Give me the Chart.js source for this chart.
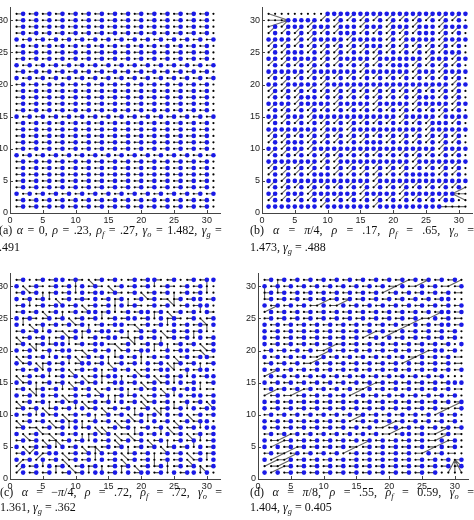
<!DOCTYPE html>
<html lang="en">
<head>
<meta charset="UTF-8">
<title>Matchings on a 31x31 grid</title>
<script src="https://cdn.jsdelivr.net/npm/chart.js"></script>
<style>
    body {
        margin: 0;
        background: #fff;
        width: 474px;
        height: 520px;
        position: relative;
        overflow: hidden;
    }
    canvas { position: absolute; }
    .cap {
        position: absolute;
        font-family: 'Liberation Serif', 'Times New Roman', serif;
        font-size: 12px;
        line-height: 14px;
        color: #111;
    }
    .cap .l1 {
        display: flex;
        justify-content: space-between;
        white-space: nowrap;
    }
    .cap .l2 { white-space: nowrap; }
    .cap sub { font-size: 70%; vertical-align: -0.3em; line-height: 0; }
</style>
</head>
<body>
<canvas id="pa" width="228" height="226" style="left:-4px;top:0px"></canvas>
<canvas id="pb" width="228" height="226" style="left:248px;top:0px"></canvas>
<canvas id="pc" width="228" height="226" style="left:-4px;top:266px"></canvas>
<canvas id="pd" width="228" height="226" style="left:244px;top:266px"></canvas>

<div class="cap" style="left:-1px;top:223px;width:223px">
    <div class="l1"><span>(a)</span><i>α</i><span>=</span><span>0,</span><i>ρ</i><span>=</span><span>.23,</span><i>ρ<sub>f</sub></i><span>=</span><span>.27,</span><i>γ<sub>o</sub></i><span>=</span><span>1.482,</span><i>γ<sub>g</sub></i><span>=</span></div>
    <div class="l2" style="margin-top:3px">.491</div>
</div>
<div class="cap" style="left:250px;top:223px;width:224px">
    <div class="l1"><span>(b)</span><i>α</i><span>=</span><span><i>π</i>/4,</span><i>ρ</i><span>=</span><span>.17,</span><i>ρ<sub>f</sub></i><span>=</span><span>.65,</span><i>γ<sub>o</sub></i><span>=</span></div>
    <div class="l2" style="margin-top:3px">1.473, <i>γ<sub>g</sub></i> = .488</div>
</div>
<div class="cap" style="left:0px;top:485px;width:222px">
    <div class="l1"><span>(c)</span><i>α</i><span>=</span><span>−<i>π</i>/4,</span><i>ρ</i><span>=</span><span>.72,</span><i>ρ<sub>f</sub></i><span>=</span><span>.72,</span><i>γ<sub>o</sub></i><span>=</span></div>
    <div class="l2" style="margin-top:1px">1.361, <i>γ<sub>g</sub></i> = .362</div>
</div>
<div class="cap" style="left:250px;top:485px;width:224px">
    <div class="l1"><span>(d)</span><i>α</i><span>=</span><span><i>π</i>/8,</span><i>ρ</i><span>=</span><span>.55,</span><i>ρ<sub>f</sub></i><span>=</span><span>0.59,</span><i>γ<sub>o</sub></i><span>=</span></div>
    <div class="l2" style="margin-top:1px">1.404, <i>γ<sub>g</sub></i> = 0.405</div>
</div>

<script>
// grid rows, top row (y = 31) first, one char per column x = 1..31 (spaces are ignored)
// o = blue point, other chars = black point, its letter says where its blue partner is
// l right, h left, k up, j down, u up-right, y up-left, n down-right, b down-left, U two right one up
const TICKS = [0, 5, 10, 15, 20, 25, 30];
const GRID = 31;

const rowsA = [
    "lololololololololololololololo.",
    "lololololololololololololololo.",
    "lololololololololololololololo.",
    "lololololololololololololololo.",
    "olololololololololololololololo",
    "lololololololololololololololo.",
    "lololololololololololololololo.",
    "lololololololololololololololo.",
    "olololololololololololololololo",
    "lololololololololololololololo.",
    "olololololololololololololololo",
    "lololololololololololololololo.",
    "lololololololololololololololo.",
    "lololololololololololololololo.",
    "lololololololololololololololo.",
    "lololololololololololololololo.",
    "olololololololololololololololo",
    "lololololololololololololololo.",
    "lololololololololololololololo.",
    "lololololololololololololololo.",
    "lololololololololololololololo.",
    "lololololololololololololololo.",
    "olololololololololololololololo",
    "lololololololololololololololo.",
    "lololololololololololololololo.",
    "lololololololololololololololo.",
    "lololololololololololololololo.",
    "lololololololololololololololo.",
    "olololololololololololololololo",
    "lololololololololololololololo.",
    "lololololololololololololololo."
];
const extraA = [];

const rowsB = [
    "..... ....o ooooo ooooo ooooo ooooo o",
    "...oo ooouo uouou ououo uouou ououo .",
    ".ouoo ouooo uooou ooouo oouoo ouooo o",
    "uouou ououo uooou ououo uouoo ououo .",
    "oooou ouooo oouoo ooouo uoooo ouooo o",
    "uouou ououo uouou ooouo uouou ououo .",
    "uouoo ououo uouou ououo uouou ouooo .",
    "oouoo ooouo uoooo ouooo oooou ooouo o",
    "uouou ououo uouou ououo oouou ououo .",
    "ooooo ouooo oooou ooooo oouoo ouooo o",
    "uouou ououo uouou ououo uouou ououo .",
    "oouoo ooouo ooooo ooooo ooooo ooouo o",
    "uouou ououo uouou ououo uouou ououo .",
    "uouou ooouo uouou ououo uouoo ououo .",
    "oooou ooooo uoooo ouooo oouoo ooouo o",
    "uouou ououo uouou ououo uouou ououo .",
    "oouoo ouooo ooooo ooooo uoooo ouooo o",
    "uouou ououo uouou ououo uouou ooouo .",
    "ooooo ooouo oouoo ooooo oooou ooooo o",
    "uouou ououo uouou ououo uouou ououo .",
    "uouoo ououo uouou ooouo uouou ououo .",
    "oouoo ouooo ooooo ooooo ooooo ouooo o",
    "uouou ououo uouou ououo uouou ououo .",
    "ooooo ooouo uoooo ooooo oouoo ooooo o",
    "uouou ououo uouou ououo uouou ououo .",
    "uouou ouooo uouou ououo uoooo ououo .",
    "oouoo ooooo ooooo ouooo ooooo ooooo o",
    "uouou ououo uouou ououo uouou ououo .",
    "oouoo ouooo oooou ooooo uoooo oooo. .",
    "uouou ououo uouou ououo uouou ouoo. .",
    "ooooo ooouo ooooo ouooo ooooo oo... ."
];
const extraB = [[1, 31, 4, 30], [1, 30, 4, 30], [1, 29, 4, 30], [31, 4, 29, 3], [31, 3, 29, 3], [31, 2, 29, 3], [31, 1, 27, 1]];

const rowsC = [
    "lokloloolohnlolokloloohlokloloo",
    "onlohlolokolohnlololoklohlolok.",
    "lolojlolokoloolohlonlolojlolokl",
    "ololoknlolohololojlololnloloolo",
    "lokloloolonlolokolohlolokloloo.",
    "lolonlojloloolokloloolonlolokoh",
    "olohlolonlolokloloolokolohlonlo",
    "oknlolololojloloolnlolokololoho",
    "lolokolnlololoolojlolonlololokl",
    "nlolojlolokloloolnlolojlolokolo",
    "lonlolookloloolnloklolojlolonlo",
    "olokloloolnlolojlolookloloolnlo",
    "nlolokolonlolojloloklolonlolooh",
    "olonlolokloolonlolokolonlolojlo",
    "lolokolonlolojlolonlolookloloon",
    "nloloklolonloloojlolonlolokoloo",
    "olojlolonlolokloolonlolokolojlo",
    "lonloloklolonlolojlolonlolookln",
    "olokolonlololojlolonlolokoloolo",
    "nlolojlolonlolokolonlolojlolono",
    "lolonlolokolonlolojlonlolokoloo",
    "olokolonlolojlolonlolokolonlolo",
    "nlolonlolojlolonlolokolonloloon",
    "lolnlolokolonnlolojlolonlolokoo",
    "onlolnlolojlolonlnlolokolonlolo",
    "lolonlnlolokolonlolonlojloloklo",
    "onlolokolonlnlolojlolonlolokolo",
    "louoloonlolokolonlolojlolonlolo",
    "olouolonlolokolonlolojlolonloko",
    "uolokolonlolojlolonloloklolonlo",
    "uololoklolokoolokoloolokolookol"
];
const extraC = [];

const rowsD = [
    "lololololololololololololololo.",
    "ololololololololololUolUololUlo",
    "lololololololololoUlololololol.",
    "lolololololololololololololoo.",
    "ololololUolUolololololololololo",
    "Uolololololololololololololoolo",
    "lololololololololololololUolol.",
    "olololololololololololUololoolo",
    "ololololololololololUolololololo",
    "olololololololoUloUolololololol",
    "ololololololololololololololoUo",
    "lololololUololololololololoolo.",
    "ololololUolololololololUololol",
    "lolololUololololololoUolololol.",
    "olololololololololololololololo",
    "Uolololololololololololololo..",
    "ololololololololololololololooo",
    "lolololololololUololololololol.",
    "UlolUlolololoUlolololololololol",
    "olololololololololololololololo",
    "ololololololololololololololUlo",
    "lololololololololololololoUolo.",
    "ololololololoUlolololololololol",
    "olololololololololUlolololololo",
    "lolololololololololUloololUlol.",
    "olUlolololololololololololUolo.",
    "oUololololololUlolololololUolol",
    "lolUlolololoUlolololololUolol..",
    "oUlUolololololololololololololo",
    "UlUlolololololololololololololo",
    "oUololololololololololololo...."
];
const extraD = [[1, 30, 1, 28], [3, 31, 3, 29], [29, 1, 30, 3], [30, 1, 30, 3], [31, 1, 30, 3], [31, 2, 30, 3]];

const MOVES = {
    l: [1, 0], h: [-1, 0], k: [0, 1], j: [0, -1],
    u: [1, 1], y: [-1, 1], n: [1, -1], b: [-1, -1], U: [2, 1]
};

function build(rows, extra) {
    const blue = [], black = [], segs = [];
    rows.forEach((raw, r) => {
        const row = raw.replace(/ /g, '');
        const y = GRID - r;
        for (let i = 0; i < GRID; i++) {
            const c = row[i] || '.';
            const x = i + 1;
            if (c === 'o') { blue.push({x, y}); continue; }
            black.push({x, y});
            const d = MOVES[c];
            if (!d) continue;
            const tx = x + d[0], ty = y + d[1];
            if (tx < 1 || tx > GRID || ty < 1 || ty > GRID) continue;
            segs.push({x, y}, {x: tx, y: ty}, {x: tx, y: null});
        }
    });
    extra.forEach(([x1, y1, x2, y2]) => {
        segs.push({x: x1, y: y1}, {x: x2, y: y2}, {x: x2, y: null});
    });
    return {blue, black, segs};
}

const tickMarks = {
    id: 'tickMarks',
    afterDraw(chart) {
        const {ctx, chartArea: a} = chart;
        const sx = chart.scales.x, sy = chart.scales.y;
        ctx.save();
        ctx.strokeStyle = '#444';
        ctx.lineWidth = 1;
        ctx.beginPath();
        TICKS.forEach(v => {
            const px = Math.round(sx.getPixelForValue(v)) + 0.5;
            ctx.moveTo(px, a.bottom);
            ctx.lineTo(px, a.bottom - 3);
            const py = Math.round(sy.getPixelForValue(v)) + 0.5;
            ctx.moveTo(a.left, py);
            ctx.lineTo(a.left + 3, py);
        });
        ctx.stroke();
        ctx.restore();
    }
};

function axis(isX) {
    return {
        type: 'linear',
        min: 0,
        max: 32,
        grid: { display: false, drawTicks: false },
        border: { display: true, color: '#444', width: 1 },
        ticks: {
            padding: 2,
            color: '#222',
            font: { family: 'Liberation Sans', size: 9 },
            maxRotation: 0,
            autoSkip: false
        },
        afterBuildTicks: s => { s.ticks = TICKS.map(v => ({ value: v })); },
        afterFit: s => { if (isX) s.height = 13; else s.width = 14; }
    };
}

function makePanel(id, rows, extra, lineColor) {
    const d = build(rows, extra);
    new Chart(document.getElementById(id), {
        type: 'scatter',
        data: {
            datasets: [
                {
                    data: d.blue,
                    pointRadius: 2.3,
                    pointBackgroundColor: '#1a1ae6',
                    pointBorderWidth: 0,
                    order: 1
                },
                {
                    data: d.black,
                    pointRadius: 1.1,
                    pointBackgroundColor: '#000',
                    pointBorderWidth: 0,
                    order: 2
                },
                {
                    data: d.segs,
                    showLine: true,
                    spanGaps: false,
                    pointRadius: 0,
                    borderColor: lineColor,
                    borderWidth: 1.1,
                    order: 3
                }
            ]
        },
        options: {
            responsive: false,
            animation: false,
            devicePixelRatio: 1,
            layout: { padding: { top: 1, right: 2, left: 0, bottom: 0 } },
            plugins: { legend: { display: false }, tooltip: { enabled: false } },
            scales: { x: axis(true), y: axis(false) }
        },
        plugins: [tickMarks]
    });
}

makePanel('pa', rowsA, extraA, '#707070');
makePanel('pb', rowsB, extraB, '#6a6a6a');
makePanel('pc', rowsC, extraC, '#555');
makePanel('pd', rowsD, extraD, '#5e5e5e');
</script>
</body>
</html>
